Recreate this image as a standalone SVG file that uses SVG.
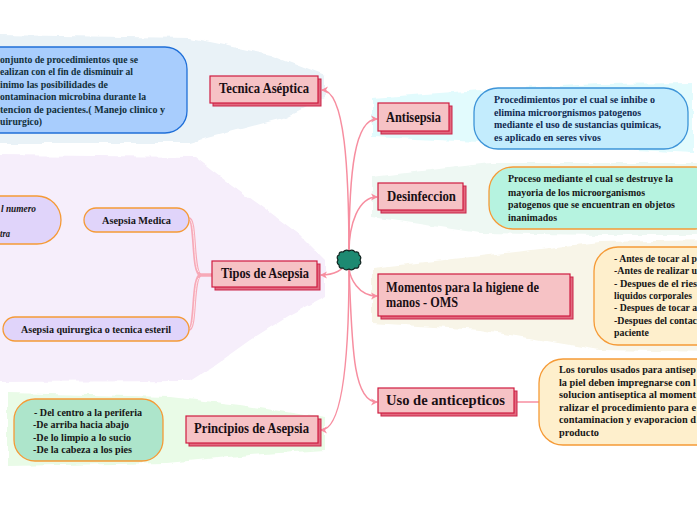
<svg xmlns="http://www.w3.org/2000/svg" width="697" height="520" viewBox="0 0 697 520">
<style>
.b{filter:url(#w)}
.s{fill:#e2697f;stroke:#c92448;stroke-width:1}
.m{fill:#f6c2c5;stroke:#cf1c40;stroke-width:1.2}
.t{font-family:"Liberation Serif",serif;font-weight:700;font-size:15px;fill:#1a0f14}
.d{font-family:"Liberation Serif",serif;font-weight:700;font-size:11px;fill:#12303a}
.g{font-family:"Liberation Serif",serif;font-weight:700;font-size:11px;fill:#161616}
.n{font-family:"Liberation Serif",serif;font-weight:700;font-size:11px;fill:#102a52}
.c{fill:none;stroke:#f78ea0;stroke-width:1.5;marker-end:url(#a)}
.h{fill:none;stroke:#f7a9b8;stroke-width:3.6}
.i{fill:none;stroke:#fde4e9;stroke-width:1}
.o{stroke:#f59a36;stroke-width:1.3}
</style>
<defs>
<filter id="w" x="-5%" y="-5%" width="110%" height="110%"><feTurbulence type="fractalNoise" baseFrequency="0.08" numOctaves="1" seed="4"/><feDisplacementMap in="SourceGraphic" scale="7" xChannelSelector="R" yChannelSelector="G"/></filter>
<marker id="a" markerUnits="userSpaceOnUse" markerWidth="9" markerHeight="8" refX="6" refY="4" orient="auto"><path d="M0,0.5 L7,4 L0,7.5 L2,4Z" fill="#f78ea0"/></marker>
</defs>
<g id="backgrounds">
<path class="b" fill="#e9f2f7" d="M-10,35 L190,38 L215,43 L270,55 L325,76 L325,98 L283,118 L207,138 L190,143 L-10,143Z"/>
<path class="b" fill="#f6eefb" d="M-10,155 L195,157 L225,180 L260,205 L300,235 L325,260 L325,297 L290,315 L250,340 L215,365 L190,381 L-10,382Z"/>
<path class="b" fill="#e9fbe7" d="M8,393 L170,397 L240,405 L325,418 L325,450 L250,455 L167,463 L8,466Z"/>
<path class="b" fill="#e2fbfd" d="M372,98 L480,90 L600,84 L693,83 L693,153 L600,148 L480,142 L372,137Z"/>
<path class="b" fill="#eef8f3" d="M372,177 L490,163 L710,163 L710,235 L600,235 L480,233 L372,217Z"/>
<path class="b" fill="#f8f5e8" d="M372,268 L480,256 L600,242 L710,240 L710,352 L600,350 L480,330 L372,323Z"/>
</g>
<g id="connectors">
<path class="c" d="M349,260 C349,170 345,90 322,90"/>
<path class="c" d="M349,252 C349,170 355,119 377,119"/>
<path class="c" d="M349,252 C349,225 358,197 377,197"/>
<path class="c" d="M349,268 C350,278 358,296 377,296"/>
<path class="c" d="M349,268 C352,340 352,402 377,402"/>
<path class="c" d="M349,268 C349,340 345,430 321,430"/>
<path class="c" d="M349,262 C342,270 335,275 321,275"/>
<path fill="none" stroke="#f78ea0" stroke-width="1.5" d="M514,402 L540,402"/>
<path class="h" d="M212,275 L201,275 C192,275 196,219 189,219"/>
<path class="h" d="M201,275 C192,275 196,329 189,329"/>
<path class="i" d="M199,272 C193,268 196,219 189,219"/>
<path class="i" d="M199,278 C193,282 196,329 189,329"/>
</g>
<g id="center"><path d="M343,252 Q346,249 349,251 Q353,249 355,252 Q359,251 359,255 Q362,257 360,260 Q362,264 359,265 Q359,269 355,268 Q352,271 349,269 Q345,271 343,268 Q339,269 339,265 Q336,263 338,260 Q336,256 339,255 Q339,251 343,252Z" fill="#1d8a72" stroke="#10221e" stroke-width="1.2"/></g>
<g id="tecnica"><rect class="s" x="213" y="79" width="108" height="27"/><rect class="m" x="210" y="76" width="108" height="27"/><text class="t" x="219" y="93" textLength="90" lengthAdjust="spacingAndGlyphs">Tecnica Aséptica</text></g>
<g id="tecnica-detail"><rect x="-30" y="47" width="217" height="86" rx="22" fill="#a8cdfd" stroke="#1f6fd8" stroke-width="1.3"/>
<text class="d" x="0" y="63" textLength="138" lengthAdjust="spacingAndGlyphs">onjunto de procedimientos que se</text>
<text class="d" x="0" y="75" textLength="133" lengthAdjust="spacingAndGlyphs">ealizan con el fin de disminuir al</text>
<text class="d" x="0" y="88" textLength="108" lengthAdjust="spacingAndGlyphs">inimo las posibilidades de</text>
<text class="d" x="0" y="100" textLength="146" lengthAdjust="spacingAndGlyphs">ontaminacion microbina durante la</text>
<text class="d" x="0" y="113" textLength="165" lengthAdjust="spacingAndGlyphs">tencion de pacientes.( Manejo clinico y</text>
<text class="d" x="0" y="125" textLength="42" lengthAdjust="spacingAndGlyphs">uirurgico)</text></g>
<g id="tipos"><rect class="s" x="215" y="264" width="105" height="26"/><rect class="m" x="212" y="261" width="105" height="26"/><text class="t" x="221" y="278" textLength="88" lengthAdjust="spacingAndGlyphs">Tipos de Asepsia</text></g>
<g id="detalle-izq"><rect x="-40" y="196" width="101" height="48" rx="24" fill="#e0d4fa" class="o"/>
<text class="g" x="1" y="212" font-style="italic" textLength="35" lengthAdjust="spacingAndGlyphs">l numero</text><text class="g" x="0" y="237" font-style="italic" textLength="10" lengthAdjust="spacingAndGlyphs">tra</text></g>
<g id="medica"><rect x="84" y="208" width="105" height="24" rx="12" fill="#e0d4fa" class="o"/><text class="g" x="102" y="224" textLength="69" lengthAdjust="spacingAndGlyphs">Asepsia Medica</text></g>
<g id="quirurgica"><rect x="3" y="317" width="186" height="24" rx="12" fill="#e0d4fa" class="o"/><text class="g" x="21" y="333" textLength="150" lengthAdjust="spacingAndGlyphs">Asepsia quirurgica o tecnica esteril</text></g>
<g id="principios"><rect class="s" x="189" y="419" width="132" height="27"/><rect class="m" x="186" y="416" width="132" height="27"/><text class="t" x="194" y="433" textLength="115" lengthAdjust="spacingAndGlyphs">Principios de Asepsia</text></g>
<g id="principios-detail"><rect x="14" y="399" width="149" height="62" rx="21" fill="#ade5cb" class="o"/>
<text class="g" x="34" y="416" textLength="108" lengthAdjust="spacingAndGlyphs">- Del centro a la periferia</text>
<text class="g" x="33" y="428" textLength="96" lengthAdjust="spacingAndGlyphs">-De arriba hacia abajo</text>
<text class="g" x="33" y="441" textLength="98" lengthAdjust="spacingAndGlyphs">-De lo limpio a lo sucio</text>
<text class="g" x="33" y="453" textLength="99" lengthAdjust="spacingAndGlyphs">-De la cabeza a los pies</text></g>
<g id="antisepsia"><rect class="s" x="381" y="106" width="71" height="28"/><rect class="m" x="378" y="103" width="71" height="28"/><text class="t" x="386" y="122" textLength="55" lengthAdjust="spacingAndGlyphs">Antisepsia</text></g>
<g id="antisepsia-detail"><rect x="474" y="88" width="214" height="61" rx="24" fill="#c3ecfd" stroke="#3d94d8" stroke-width="1.3"/>
<text class="n" x="494" y="103" textLength="161" lengthAdjust="spacingAndGlyphs">Procedimientos por el cual se inhibe o</text>
<text class="n" x="494" y="116" textLength="147" lengthAdjust="spacingAndGlyphs">elimina microorgnismos patogenos</text>
<text class="n" x="494" y="128" textLength="167" lengthAdjust="spacingAndGlyphs">mediante el uso de sustancias quimicas,</text>
<text class="n" x="494" y="141" textLength="107" lengthAdjust="spacingAndGlyphs">es aplicado en seres vivos</text></g>
<g id="desinfeccion"><rect class="s" x="381" y="186" width="85" height="27"/><rect class="m" x="378" y="183" width="85" height="27"/><text class="t" x="387" y="201" textLength="69" lengthAdjust="spacingAndGlyphs">Desinfeccion</text></g>
<g id="desinfeccion-detail"><rect x="489" y="167" width="230" height="62" rx="24" fill="#b6f3e0" class="o"/>
<text class="g" x="508" y="182" textLength="165" lengthAdjust="spacingAndGlyphs">Proceso mediante el cual se destruye la</text>
<text class="g" x="508" y="196" textLength="137" lengthAdjust="spacingAndGlyphs">mayoria de los microorganismos</text>
<text class="g" x="508" y="208" textLength="167" lengthAdjust="spacingAndGlyphs">patogenos que se encuentran en objetos</text>
<text class="g" x="508" y="221" textLength="49" lengthAdjust="spacingAndGlyphs">inanimados</text></g>
<g id="momentos"><rect class="s" x="381" y="277" width="192" height="42"/><rect class="m" x="378" y="274" width="192" height="42"/><text class="t" x="386" y="292" textLength="153" lengthAdjust="spacingAndGlyphs">Momentos para la higiene de</text><text class="t" x="386" y="307" textLength="72" lengthAdjust="spacingAndGlyphs">manos - OMS</text></g>
<g id="momentos-detail"><rect x="594" y="247" width="140" height="98" rx="24" fill="#feefcc" class="o"/>
<text class="g" x="614" y="262" textLength="83" lengthAdjust="spacingAndGlyphs">- Antes de tocar al p</text>
<text class="g" x="614" y="274" textLength="83" lengthAdjust="spacingAndGlyphs">-Antes de realizar u</text>
<text class="g" x="614" y="287" textLength="83" lengthAdjust="spacingAndGlyphs">- Despues de el ries</text>
<text class="g" x="614" y="299" textLength="78" lengthAdjust="spacingAndGlyphs">liquidos corporales</text>
<text class="g" x="614" y="311" textLength="83" lengthAdjust="spacingAndGlyphs">- Despues de tocar a</text>
<text class="g" x="614" y="324" textLength="83" lengthAdjust="spacingAndGlyphs">-Despues del contac</text>
<text class="g" x="614" y="336" textLength="35" lengthAdjust="spacingAndGlyphs">paciente</text></g>
<g id="uso"><rect class="s" x="381" y="391" width="136" height="25"/><rect class="m" x="378" y="388" width="136" height="25"/><text class="t" x="386" y="405" textLength="119" lengthAdjust="spacingAndGlyphs">Uso de anticepticos</text></g>
<g id="uso-detail"><rect x="539" y="359" width="190" height="86" rx="24" fill="#feefcc" class="o"/>
<text class="g" x="559" y="373" textLength="137" lengthAdjust="spacingAndGlyphs">Los torulos usados para antisep</text>
<text class="g" x="559" y="386" textLength="137" lengthAdjust="spacingAndGlyphs">la piel deben impregnarse con l</text>
<text class="g" x="559" y="398" textLength="137" lengthAdjust="spacingAndGlyphs">solucion antiseptica al moment</text>
<text class="g" x="559" y="411" textLength="137" lengthAdjust="spacingAndGlyphs">ralizar el procedimiento para e</text>
<text class="g" x="559" y="423" textLength="137" lengthAdjust="spacingAndGlyphs">contaminacion y evaporacion d</text>
<text class="g" x="559" y="436" textLength="40" lengthAdjust="spacingAndGlyphs">producto</text></g>
</svg>
